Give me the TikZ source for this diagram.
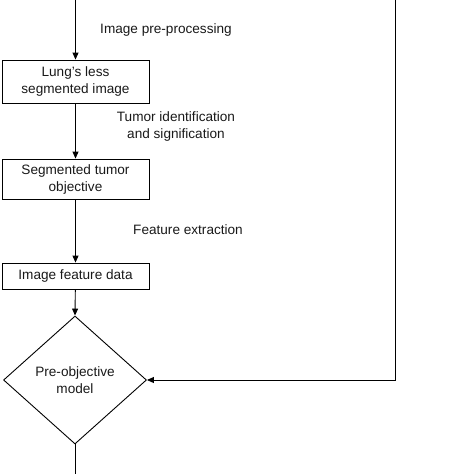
\documentclass[tikz,border=0pt]{standalone}
\usepackage{fontspec}
\setmainfont{Liberation Sans}
\usetikzlibrary{shapes.geometric,arrows.meta}
\begin{document}
\begin{tikzpicture}[x=1pt,y=-1pt,
  every node/.style={font=\fontsize{13.6}{17}\selectfont, align=center, text=black!90},
  procbox/.style={draw, line width=0.9pt, minimum width=147pt, inner sep=0pt},
  decbox/.style={draw, diamond, line width=0.9pt, minimum width=143pt, minimum height=128pt, inner sep=0pt},
  lbl/.style={inner sep=0pt},
  flow/.style={line width=0.9pt, -{Triangle[length=7pt,width=6pt]}},
  plain/.style={line width=0.9pt}]
\useasboundingbox (0,0) rectangle (474,474);
\node[procbox, minimum height=43pt] (b1) at (75.5,81.5) {Lung's less\\segmented image};
\node[procbox, minimum height=40pt] (b2) at (75.5,179) {Segmented tumor\\objective};
\node[procbox, minimum height=26pt] (b3) at (75.5,276) {Image feature data};
\node[decbox] (d) at (75,380) {Pre-objective\\model};
\coordinate (top) at (75.5,0);
\coordinate (rtop) at (395,0);
\coordinate (rcorner) at (395,380);
\coordinate (bot) at (75,474);
\node[lbl] (l1) at (166,30) {Image pre-processing};
\node[lbl] (l2) at (176,126.5) {Tumor identification\\and signification};
\node[lbl] (l3) at (188,230) {Feature extraction};
\draw[flow] (top) -- (b1.north);
\draw[flow] (b1) -- (b2);
\draw[flow] (b2) -- (b3);
\draw[flow] (b3) -- (d.north);
\draw[plain] (d.south) -- (bot);
\draw[flow] (rtop) -- (rcorner) -- (d.east);
\end{tikzpicture}
\end{document}
